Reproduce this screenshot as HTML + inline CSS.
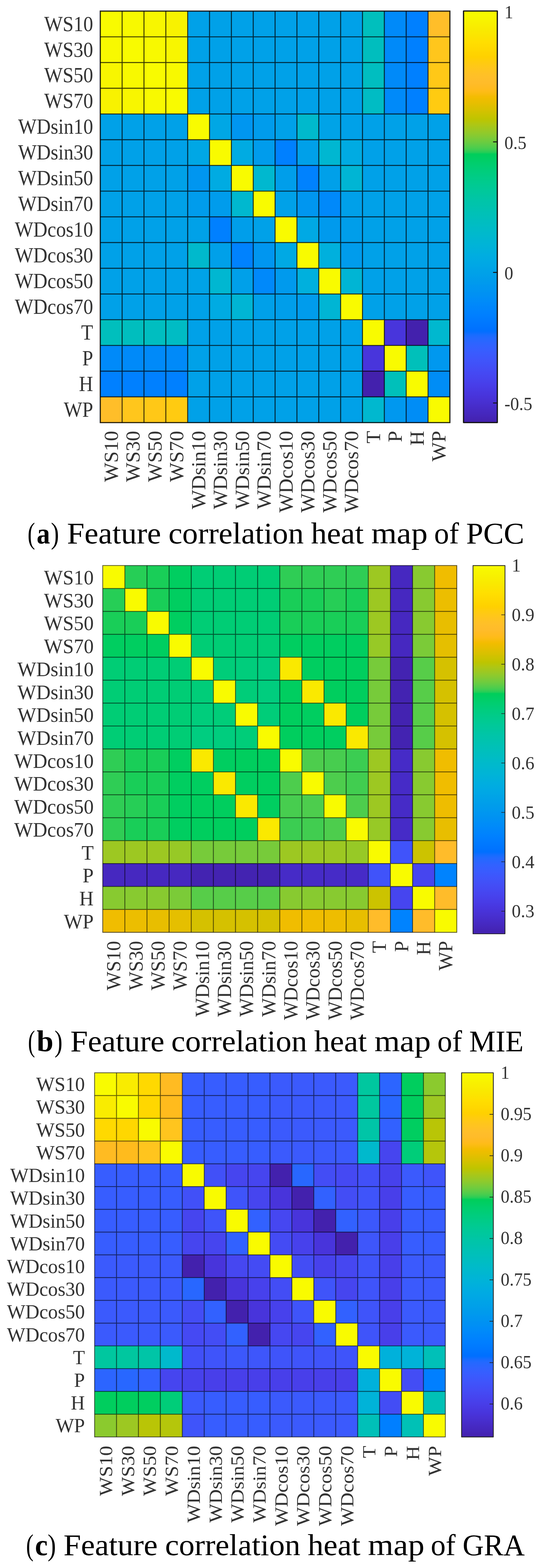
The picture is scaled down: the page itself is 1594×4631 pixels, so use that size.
<!DOCTYPE html>
<html lang="en">
<head>
<meta charset="utf-8">
<title>Feature correlation heat maps</title>
<style>
html,body{margin:0;padding:0;background:#fff;}
body{width:1594px;height:4631px;overflow:hidden;}
svg{display:block;}
text{font-family:'Liberation Serif', 'DejaVu Serif', serif;fill:#333;}
.cap{fill:#000;}
</style>
</head>
<body>
<svg width="1594" height="4631" viewBox="0 0 1594 4631">
<rect x="0" y="0" width="1594" height="4631" fill="#ffffff"/>
<defs>
<linearGradient id="cb" x1="0" y1="1" x2="0" y2="0">
<stop offset="0%" stop-color="#4321ad"/><stop offset="0.391%" stop-color="#4322b0"/><stop offset="0.781%" stop-color="#4423b3"/><stop offset="1.172%" stop-color="#4424b6"/><stop offset="1.562%" stop-color="#4526b9"/><stop offset="1.953%" stop-color="#4527bc"/><stop offset="2.344%" stop-color="#4528bf"/><stop offset="2.734%" stop-color="#4629c1"/>
<stop offset="3.125%" stop-color="#462ac4"/><stop offset="3.516%" stop-color="#462bc7"/><stop offset="3.906%" stop-color="#472cca"/><stop offset="4.297%" stop-color="#472ecc"/><stop offset="4.688%" stop-color="#472fcf"/><stop offset="5.078%" stop-color="#4830d2"/><stop offset="5.469%" stop-color="#4831d4"/><stop offset="5.859%" stop-color="#4832d7"/>
<stop offset="6.25%" stop-color="#4833da"/><stop offset="6.641%" stop-color="#4835dc"/><stop offset="7.031%" stop-color="#4836de"/><stop offset="7.422%" stop-color="#4837e0"/><stop offset="7.812%" stop-color="#4839e2"/><stop offset="8.203%" stop-color="#483ae4"/><stop offset="8.594%" stop-color="#483ce6"/><stop offset="8.984%" stop-color="#483de8"/>
<stop offset="9.375%" stop-color="#483fe9"/><stop offset="9.766%" stop-color="#4740eb"/><stop offset="10.156%" stop-color="#4742ec"/><stop offset="10.547%" stop-color="#4743ee"/><stop offset="10.938%" stop-color="#4645ef"/><stop offset="11.328%" stop-color="#4646f0"/><stop offset="11.719%" stop-color="#4548f2"/><stop offset="12.109%" stop-color="#4549f3"/>
<stop offset="12.5%" stop-color="#444bf4"/><stop offset="12.891%" stop-color="#444cf5"/><stop offset="13.281%" stop-color="#434ef6"/><stop offset="13.672%" stop-color="#424ff7"/><stop offset="14.062%" stop-color="#4151f8"/><stop offset="14.453%" stop-color="#4052f9"/><stop offset="14.844%" stop-color="#4054fa"/><stop offset="15.234%" stop-color="#3f55fb"/>
<stop offset="15.625%" stop-color="#3e56fc"/><stop offset="16.016%" stop-color="#3c58fc"/><stop offset="16.406%" stop-color="#3b59fd"/><stop offset="16.797%" stop-color="#3a5bfe"/><stop offset="17.188%" stop-color="#385cfe"/><stop offset="17.578%" stop-color="#375eff"/><stop offset="17.969%" stop-color="#355fff"/><stop offset="18.359%" stop-color="#3361ff"/>
<stop offset="18.75%" stop-color="#3162ff"/><stop offset="19.141%" stop-color="#2e64ff"/><stop offset="19.531%" stop-color="#2b65ff"/><stop offset="19.922%" stop-color="#2867ff"/><stop offset="20.312%" stop-color="#2568ff"/><stop offset="20.703%" stop-color="#216aff"/><stop offset="21.094%" stop-color="#1b6bff"/><stop offset="21.484%" stop-color="#136dff"/>
<stop offset="21.875%" stop-color="#086eff"/><stop offset="22.266%" stop-color="#0070ff"/><stop offset="22.656%" stop-color="#0071ff"/><stop offset="23.047%" stop-color="#0073ff"/><stop offset="23.438%" stop-color="#0075ff"/><stop offset="23.828%" stop-color="#0076ff"/><stop offset="24.219%" stop-color="#0078ff"/><stop offset="24.609%" stop-color="#0079ff"/>
<stop offset="25%" stop-color="#007bff"/><stop offset="25.391%" stop-color="#007cff"/><stop offset="25.781%" stop-color="#007eff"/><stop offset="26.172%" stop-color="#007fff"/><stop offset="26.562%" stop-color="#0081fe"/><stop offset="26.953%" stop-color="#0082fe"/><stop offset="27.344%" stop-color="#0084fd"/><stop offset="27.734%" stop-color="#0085fc"/>
<stop offset="28.125%" stop-color="#0086fb"/><stop offset="28.516%" stop-color="#0088fb"/><stop offset="28.906%" stop-color="#0089fa"/><stop offset="29.297%" stop-color="#008bf9"/><stop offset="29.688%" stop-color="#008cf8"/><stop offset="30.078%" stop-color="#008df7"/><stop offset="30.469%" stop-color="#008ff6"/><stop offset="30.859%" stop-color="#0090f4"/>
<stop offset="31.25%" stop-color="#0091f3"/><stop offset="31.641%" stop-color="#0092f2"/><stop offset="32.031%" stop-color="#0094f1"/><stop offset="32.422%" stop-color="#0095f1"/><stop offset="32.812%" stop-color="#0096f0"/><stop offset="33.203%" stop-color="#0097ef"/><stop offset="33.594%" stop-color="#0099ee"/><stop offset="33.984%" stop-color="#009aed"/>
<stop offset="34.375%" stop-color="#009bec"/><stop offset="34.766%" stop-color="#009ceb"/><stop offset="35.156%" stop-color="#009dea"/><stop offset="35.547%" stop-color="#009fea"/><stop offset="35.938%" stop-color="#00a0e9"/><stop offset="36.328%" stop-color="#00a1e8"/><stop offset="36.719%" stop-color="#00a2e8"/><stop offset="37.109%" stop-color="#00a3e7"/>
<stop offset="37.5%" stop-color="#00a4e6"/><stop offset="37.891%" stop-color="#00a6e6"/><stop offset="38.281%" stop-color="#00a7e5"/><stop offset="38.672%" stop-color="#00a8e4"/><stop offset="39.062%" stop-color="#00a9e4"/><stop offset="39.453%" stop-color="#00aae3"/><stop offset="39.844%" stop-color="#00abe2"/><stop offset="40.234%" stop-color="#00ace1"/>
<stop offset="40.625%" stop-color="#00ade0"/><stop offset="41.016%" stop-color="#00aedf"/><stop offset="41.406%" stop-color="#00afdd"/><stop offset="41.797%" stop-color="#00b0dc"/><stop offset="42.188%" stop-color="#00b1db"/><stop offset="42.578%" stop-color="#00b2d9"/><stop offset="42.969%" stop-color="#00b3d8"/><stop offset="43.359%" stop-color="#00b4d7"/>
<stop offset="43.75%" stop-color="#00b5d5"/><stop offset="44.141%" stop-color="#00b5d4"/><stop offset="44.531%" stop-color="#00b6d2"/><stop offset="44.922%" stop-color="#00b7d0"/><stop offset="45.312%" stop-color="#00b8cf"/><stop offset="45.703%" stop-color="#00b9cd"/><stop offset="46.094%" stop-color="#00b9cc"/><stop offset="46.484%" stop-color="#00baca"/>
<stop offset="46.875%" stop-color="#00bbc8"/><stop offset="47.266%" stop-color="#00bbc7"/><stop offset="47.656%" stop-color="#00bcc5"/><stop offset="48.047%" stop-color="#00bdc3"/><stop offset="48.438%" stop-color="#00bdc1"/><stop offset="48.828%" stop-color="#00bec0"/><stop offset="49.219%" stop-color="#00bebe"/><stop offset="49.609%" stop-color="#00bfbc"/>
<stop offset="50%" stop-color="#00c0ba"/><stop offset="50.391%" stop-color="#00c0b8"/><stop offset="50.781%" stop-color="#00c1b7"/><stop offset="51.172%" stop-color="#00c1b5"/><stop offset="51.562%" stop-color="#00c2b3"/><stop offset="51.953%" stop-color="#00c2b1"/><stop offset="52.344%" stop-color="#00c3af"/><stop offset="52.734%" stop-color="#00c3ad"/>
<stop offset="53.125%" stop-color="#00c4ab"/><stop offset="53.516%" stop-color="#00c4aa"/><stop offset="53.906%" stop-color="#00c5a8"/><stop offset="54.297%" stop-color="#00c5a6"/><stop offset="54.688%" stop-color="#00c6a4"/><stop offset="55.078%" stop-color="#00c6a1"/><stop offset="55.469%" stop-color="#00c79f"/><stop offset="55.859%" stop-color="#00c89d"/>
<stop offset="56.25%" stop-color="#00c89b"/><stop offset="56.641%" stop-color="#00c999"/><stop offset="57.031%" stop-color="#00c997"/><stop offset="57.422%" stop-color="#00ca94"/><stop offset="57.812%" stop-color="#00ca92"/><stop offset="58.203%" stop-color="#00cb8f"/><stop offset="58.594%" stop-color="#00cb8d"/><stop offset="58.984%" stop-color="#00cb8a"/>
<stop offset="59.375%" stop-color="#00cc88"/><stop offset="59.766%" stop-color="#00cc85"/><stop offset="60.156%" stop-color="#00cc82"/><stop offset="60.547%" stop-color="#00cd80"/><stop offset="60.938%" stop-color="#00cd7d"/><stop offset="61.328%" stop-color="#00cd7a"/><stop offset="61.719%" stop-color="#00cd77"/><stop offset="62.109%" stop-color="#00ce74"/>
<stop offset="62.5%" stop-color="#00ce71"/><stop offset="62.891%" stop-color="#00ce6e"/><stop offset="63.281%" stop-color="#00ce6b"/><stop offset="63.672%" stop-color="#00ce67"/><stop offset="64.062%" stop-color="#00ce64"/><stop offset="64.453%" stop-color="#00ce61"/><stop offset="64.844%" stop-color="#00ce5d"/><stop offset="65.234%" stop-color="#00ce5a"/>
<stop offset="65.625%" stop-color="#22ce57"/><stop offset="66.016%" stop-color="#34cd54"/><stop offset="66.406%" stop-color="#42cd50"/><stop offset="66.797%" stop-color="#4dcd4d"/><stop offset="67.188%" stop-color="#56cd49"/><stop offset="67.578%" stop-color="#5fcc46"/><stop offset="67.969%" stop-color="#67cc42"/><stop offset="68.359%" stop-color="#6fcc3e"/>
<stop offset="68.75%" stop-color="#76cb3b"/><stop offset="69.141%" stop-color="#7dcb37"/><stop offset="69.531%" stop-color="#84ca33"/><stop offset="69.922%" stop-color="#8aca2f"/><stop offset="70.312%" stop-color="#90ca2b"/><stop offset="70.703%" stop-color="#96c927"/><stop offset="71.094%" stop-color="#9cc823"/><stop offset="71.484%" stop-color="#a1c81e"/>
<stop offset="71.875%" stop-color="#a6c71a"/><stop offset="72.266%" stop-color="#acc716"/><stop offset="72.656%" stop-color="#b1c611"/><stop offset="73.047%" stop-color="#b6c60a"/><stop offset="73.438%" stop-color="#bac504"/><stop offset="73.828%" stop-color="#bfc400"/><stop offset="74.219%" stop-color="#c4c400"/><stop offset="74.609%" stop-color="#c8c300"/>
<stop offset="75%" stop-color="#ccc300"/><stop offset="75.391%" stop-color="#d0c200"/><stop offset="75.781%" stop-color="#d5c100"/><stop offset="76.172%" stop-color="#d9c100"/><stop offset="76.562%" stop-color="#dcc000"/><stop offset="76.953%" stop-color="#e0bf00"/><stop offset="77.344%" stop-color="#e4bf00"/><stop offset="77.734%" stop-color="#e8be00"/>
<stop offset="78.125%" stop-color="#ebbe00"/><stop offset="78.516%" stop-color="#eebd00"/><stop offset="78.906%" stop-color="#f2bd00"/><stop offset="79.297%" stop-color="#f5bc04"/><stop offset="79.688%" stop-color="#f8bc0c"/><stop offset="80.078%" stop-color="#fbbc12"/><stop offset="80.469%" stop-color="#febc17"/><stop offset="80.859%" stop-color="#ffbb1c"/>
<stop offset="81.25%" stop-color="#ffbb20"/><stop offset="81.641%" stop-color="#ffbb23"/><stop offset="82.031%" stop-color="#ffbb26"/><stop offset="82.422%" stop-color="#ffbc29"/><stop offset="82.812%" stop-color="#ffbc2a"/><stop offset="83.203%" stop-color="#ffbd2a"/><stop offset="83.594%" stop-color="#ffbe29"/><stop offset="83.984%" stop-color="#ffbf29"/>
<stop offset="84.375%" stop-color="#ffc027"/><stop offset="84.766%" stop-color="#ffc125"/><stop offset="85.156%" stop-color="#ffc322"/><stop offset="85.547%" stop-color="#ffc420"/><stop offset="85.938%" stop-color="#ffc51d"/><stop offset="86.328%" stop-color="#ffc71a"/><stop offset="86.719%" stop-color="#ffc817"/><stop offset="87.109%" stop-color="#ffca13"/>
<stop offset="87.5%" stop-color="#ffcb0f"/><stop offset="87.891%" stop-color="#ffcd0b"/><stop offset="88.281%" stop-color="#ffce06"/><stop offset="88.672%" stop-color="#ffd001"/><stop offset="89.062%" stop-color="#ffd100"/><stop offset="89.453%" stop-color="#ffd300"/><stop offset="89.844%" stop-color="#ffd400"/><stop offset="90.234%" stop-color="#ffd600"/>
<stop offset="90.625%" stop-color="#ffd800"/><stop offset="91.016%" stop-color="#ffd900"/><stop offset="91.406%" stop-color="#ffdb00"/><stop offset="91.797%" stop-color="#ffdc00"/><stop offset="92.188%" stop-color="#ffde00"/><stop offset="92.578%" stop-color="#ffdf00"/><stop offset="92.969%" stop-color="#fee100"/><stop offset="93.359%" stop-color="#fde200"/>
<stop offset="93.75%" stop-color="#fce400"/><stop offset="94.141%" stop-color="#fbe500"/><stop offset="94.531%" stop-color="#fbe700"/><stop offset="94.922%" stop-color="#fae800"/><stop offset="95.312%" stop-color="#f9ea00"/><stop offset="95.703%" stop-color="#f9eb00"/><stop offset="96.094%" stop-color="#f9ed00"/><stop offset="96.484%" stop-color="#f9ee00"/>
<stop offset="96.875%" stop-color="#f8f000"/><stop offset="97.266%" stop-color="#f8f100"/><stop offset="97.656%" stop-color="#f8f300"/><stop offset="98.047%" stop-color="#f8f400"/><stop offset="98.438%" stop-color="#f8f500"/><stop offset="98.828%" stop-color="#f8f700"/><stop offset="99.219%" stop-color="#f8f800"/><stop offset="99.609%" stop-color="#f9fa00"/>
<stop offset="100%" stop-color="#f9fb00"/>
</linearGradient>
</defs>
<g id="plot1">
<g shape-rendering="crispEdges">
<rect x="296" y="32.8" width="65" height="76.46" fill="#f9fb00"/><rect x="360.5" y="32.8" width="65" height="76.46" fill="#f8f900"/><rect x="425" y="32.8" width="65" height="76.46" fill="#f8f600"/><rect x="489.5" y="32.8" width="65" height="76.46" fill="#f8f200"/><rect x="554" y="32.8" width="516.5" height="76.46" fill="#00a1e8"/><rect x="1070" y="32.8" width="65" height="76.46" fill="#00bfbd"/><rect x="1134.5" y="32.8" width="65" height="76.46" fill="#008af9"/><rect x="1199" y="32.8" width="65" height="76.46" fill="#0080ff"/><rect x="1263.5" y="32.8" width="65" height="76.46" fill="#ffbe29"/>
<rect x="296" y="108.76" width="65" height="76.46" fill="#f8f900"/><rect x="360.5" y="108.76" width="65" height="76.46" fill="#f9fb00"/><rect x="425" y="108.76" width="65" height="76.46" fill="#f8f900"/><rect x="489.5" y="108.76" width="65" height="76.46" fill="#f8f600"/><rect x="554" y="108.76" width="516.5" height="76.46" fill="#00a1e8"/><rect x="1070" y="108.76" width="65" height="76.46" fill="#00bebe"/><rect x="1134.5" y="108.76" width="65" height="76.46" fill="#008af9"/><rect x="1199" y="108.76" width="65" height="76.46" fill="#0080ff"/><rect x="1263.5" y="108.76" width="65" height="76.46" fill="#ffc61c"/>
<rect x="296" y="184.71" width="65" height="76.46" fill="#f8f600"/><rect x="360.5" y="184.71" width="65" height="76.46" fill="#f8f900"/><rect x="425" y="184.71" width="65" height="76.46" fill="#f9fb00"/><rect x="489.5" y="184.71" width="65" height="76.46" fill="#f8f900"/><rect x="554" y="184.71" width="516.5" height="76.46" fill="#00a1e8"/><rect x="1070" y="184.71" width="65" height="76.46" fill="#00bec0"/><rect x="1134.5" y="184.71" width="65" height="76.46" fill="#008af9"/><rect x="1199" y="184.71" width="65" height="76.46" fill="#0080ff"/><rect x="1263.5" y="184.71" width="65" height="76.46" fill="#ffc817"/>
<rect x="296" y="260.67" width="65" height="76.46" fill="#f8f200"/><rect x="360.5" y="260.67" width="65" height="76.46" fill="#f8f600"/><rect x="425" y="260.67" width="65" height="76.46" fill="#f8f900"/><rect x="489.5" y="260.67" width="65" height="76.46" fill="#f9fb00"/><rect x="554" y="260.67" width="516.5" height="76.46" fill="#00a1e8"/><rect x="1070" y="260.67" width="65" height="76.46" fill="#00bcc4"/><rect x="1134.5" y="260.67" width="65" height="76.46" fill="#008af9"/><rect x="1199" y="260.67" width="65" height="76.46" fill="#0080ff"/><rect x="1263.5" y="260.67" width="65" height="76.46" fill="#ffcb11"/>
<rect x="296" y="336.62" width="258.5" height="76.46" fill="#00a1e8"/><rect x="554" y="336.62" width="65" height="76.46" fill="#f9fb00"/><rect x="618.5" y="336.62" width="65" height="76.46" fill="#00a7e5"/><rect x="683" y="336.62" width="65" height="76.46" fill="#0096f0"/><rect x="747.5" y="336.62" width="65" height="76.46" fill="#009cec"/><rect x="812" y="336.62" width="65" height="76.46" fill="#00a1e8"/><rect x="876.5" y="336.62" width="65" height="76.46" fill="#00b9cc"/><rect x="941" y="336.62" width="65" height="76.46" fill="#00a3e7"/><rect x="1005.5" y="336.62" width="323" height="76.46" fill="#00a1e8"/>
<rect x="296" y="412.58" width="258.5" height="76.46" fill="#00a1e8"/><rect x="554" y="412.58" width="65" height="76.46" fill="#00a7e5"/><rect x="618.5" y="412.58" width="65" height="76.46" fill="#f9fb00"/><rect x="683" y="412.58" width="65" height="76.46" fill="#00abe2"/><rect x="747.5" y="412.58" width="65" height="76.46" fill="#009cec"/><rect x="812" y="412.58" width="65" height="76.46" fill="#0080ff"/><rect x="876.5" y="412.58" width="65" height="76.46" fill="#00a0e9"/><rect x="941" y="412.58" width="65" height="76.46" fill="#00b7d1"/><rect x="1005.5" y="412.58" width="65" height="76.46" fill="#00abe2"/><rect x="1070" y="412.58" width="258.5" height="76.46" fill="#00a1e8"/>
<rect x="296" y="488.54" width="258.5" height="76.46" fill="#00a1e8"/><rect x="554" y="488.54" width="65" height="76.46" fill="#0096f0"/><rect x="618.5" y="488.54" width="65" height="76.46" fill="#00abe2"/><rect x="683" y="488.54" width="65" height="76.46" fill="#f9fb00"/><rect x="747.5" y="488.54" width="65" height="76.46" fill="#00b8cf"/><rect x="812" y="488.54" width="65" height="76.46" fill="#009eea"/><rect x="876.5" y="488.54" width="65" height="76.46" fill="#0082fe"/><rect x="941" y="488.54" width="65" height="76.46" fill="#00a0e9"/><rect x="1005.5" y="488.54" width="65" height="76.46" fill="#00b5d4"/><rect x="1070" y="488.54" width="258.5" height="76.46" fill="#00a1e8"/>
<rect x="296" y="564.49" width="258.5" height="76.46" fill="#00a1e8"/><rect x="554" y="564.49" width="129.5" height="76.46" fill="#009cec"/><rect x="683" y="564.49" width="65" height="76.46" fill="#00b8cf"/><rect x="747.5" y="564.49" width="65" height="76.46" fill="#f9fb00"/><rect x="812" y="564.49" width="65" height="76.46" fill="#00a1e8"/><rect x="876.5" y="564.49" width="65" height="76.46" fill="#0096f0"/><rect x="941" y="564.49" width="65" height="76.46" fill="#0089fa"/><rect x="1005.5" y="564.49" width="65" height="76.46" fill="#00a0e9"/><rect x="1070" y="564.49" width="258.5" height="76.46" fill="#00a1e8"/>
<rect x="296" y="640.45" width="323" height="76.46" fill="#00a1e8"/><rect x="618.5" y="640.45" width="65" height="76.46" fill="#0080ff"/><rect x="683" y="640.45" width="65" height="76.46" fill="#009eea"/><rect x="747.5" y="640.45" width="65" height="76.46" fill="#00a1e8"/><rect x="812" y="640.45" width="65" height="76.46" fill="#f9fb00"/><rect x="876.5" y="640.45" width="65" height="76.46" fill="#00a9e4"/><rect x="941" y="640.45" width="65" height="76.46" fill="#009aed"/><rect x="1005.5" y="640.45" width="65" height="76.46" fill="#009eea"/><rect x="1070" y="640.45" width="258.5" height="76.46" fill="#00a1e8"/>
<rect x="296" y="716.41" width="258.5" height="76.46" fill="#00a1e8"/><rect x="554" y="716.41" width="65" height="76.46" fill="#00b9cc"/><rect x="618.5" y="716.41" width="65" height="76.46" fill="#00a0e9"/><rect x="683" y="716.41" width="65" height="76.46" fill="#0082fe"/><rect x="747.5" y="716.41" width="65" height="76.46" fill="#0096f0"/><rect x="812" y="716.41" width="65" height="76.46" fill="#00a9e4"/><rect x="876.5" y="716.41" width="65" height="76.46" fill="#f9fb00"/><rect x="941" y="716.41" width="65" height="76.46" fill="#00b0dd"/><rect x="1005.5" y="716.41" width="65" height="76.46" fill="#009cec"/><rect x="1070" y="716.41" width="258.5" height="76.46" fill="#00a1e8"/>
<rect x="296" y="792.36" width="258.5" height="76.46" fill="#00a1e8"/><rect x="554" y="792.36" width="65" height="76.46" fill="#00a3e7"/><rect x="618.5" y="792.36" width="65" height="76.46" fill="#00b7d1"/><rect x="683" y="792.36" width="65" height="76.46" fill="#00a0e9"/><rect x="747.5" y="792.36" width="65" height="76.46" fill="#0089fa"/><rect x="812" y="792.36" width="65" height="76.46" fill="#009aed"/><rect x="876.5" y="792.36" width="65" height="76.46" fill="#00b0dd"/><rect x="941" y="792.36" width="65" height="76.46" fill="#f9fb00"/><rect x="1005.5" y="792.36" width="65" height="76.46" fill="#00b5d4"/><rect x="1070" y="792.36" width="258.5" height="76.46" fill="#00a1e8"/>
<rect x="296" y="868.32" width="323" height="76.46" fill="#00a1e8"/><rect x="618.5" y="868.32" width="65" height="76.46" fill="#00abe2"/><rect x="683" y="868.32" width="65" height="76.46" fill="#00b5d4"/><rect x="747.5" y="868.32" width="65" height="76.46" fill="#00a0e9"/><rect x="812" y="868.32" width="65" height="76.46" fill="#009eea"/><rect x="876.5" y="868.32" width="65" height="76.46" fill="#009cec"/><rect x="941" y="868.32" width="65" height="76.46" fill="#00b5d4"/><rect x="1005.5" y="868.32" width="65" height="76.46" fill="#f9fb00"/><rect x="1070" y="868.32" width="258.5" height="76.46" fill="#00a1e8"/>
<rect x="296" y="944.27" width="65" height="76.46" fill="#00bfbd"/><rect x="360.5" y="944.27" width="65" height="76.46" fill="#00bebe"/><rect x="425" y="944.27" width="65" height="76.46" fill="#00bec0"/><rect x="489.5" y="944.27" width="65" height="76.46" fill="#00bcc4"/><rect x="554" y="944.27" width="516.5" height="76.46" fill="#00a1e8"/><rect x="1070" y="944.27" width="65" height="76.46" fill="#f9fb00"/><rect x="1134.5" y="944.27" width="65" height="76.46" fill="#4835dc"/><rect x="1199" y="944.27" width="65" height="76.46" fill="#4321ad"/><rect x="1263.5" y="944.27" width="65" height="76.46" fill="#00b8cf"/>
<rect x="296" y="1020.23" width="258.5" height="76.46" fill="#008af9"/><rect x="554" y="1020.23" width="516.5" height="76.46" fill="#00a1e8"/><rect x="1070" y="1020.23" width="65" height="76.46" fill="#4835dc"/><rect x="1134.5" y="1020.23" width="65" height="76.46" fill="#f9fb00"/><rect x="1199" y="1020.23" width="65" height="76.46" fill="#00c0ba"/><rect x="1263.5" y="1020.23" width="65" height="76.46" fill="#0098ef"/>
<rect x="296" y="1096.19" width="258.5" height="76.46" fill="#0080ff"/><rect x="554" y="1096.19" width="516.5" height="76.46" fill="#00a1e8"/><rect x="1070" y="1096.19" width="65" height="76.46" fill="#4321ad"/><rect x="1134.5" y="1096.19" width="65" height="76.46" fill="#00c0ba"/><rect x="1199" y="1096.19" width="65" height="76.46" fill="#f9fb00"/><rect x="1263.5" y="1096.19" width="65" height="76.46" fill="#008df6"/>
<rect x="296" y="1172.14" width="65" height="76.46" fill="#ffbe29"/><rect x="360.5" y="1172.14" width="65" height="76.46" fill="#ffc61c"/><rect x="425" y="1172.14" width="65" height="76.46" fill="#ffc817"/><rect x="489.5" y="1172.14" width="65" height="76.46" fill="#ffcb11"/><rect x="554" y="1172.14" width="516.5" height="76.46" fill="#00a1e8"/><rect x="1070" y="1172.14" width="65" height="76.46" fill="#00b8cf"/><rect x="1134.5" y="1172.14" width="65" height="76.46" fill="#0098ef"/><rect x="1199" y="1172.14" width="65" height="76.46" fill="#008df6"/><rect x="1263.5" y="1172.14" width="65" height="76.46" fill="#f9fb00"/>
</g>
<g fill="none" stroke="#000">
<path d="M360.5 32.8V1248.1M296 108.76H1328M425 32.8V1248.1M296 184.71H1328M489.5 32.8V1248.1M296 260.67H1328M554 32.8V1248.1M296 336.62H1328M618.5 32.8V1248.1M296 412.58H1328M683 32.8V1248.1M296 488.54H1328M747.5 32.8V1248.1M296 564.49H1328M812 32.8V1248.1M296 640.45H1328M876.5 32.8V1248.1M296 716.41H1328M941 32.8V1248.1M296 792.36H1328M1005.5 32.8V1248.1M296 868.32H1328M1070 32.8V1248.1M296 944.27H1328M1134.5 32.8V1248.1M296 1020.23H1328M1199 32.8V1248.1M296 1096.19H1328M1263.5 32.8V1248.1M296 1172.14H1328" stroke-opacity="0.35" stroke-width="3.6"/>
<path d="M360.5 32.8V1248.1M296 108.76H1328M425 32.8V1248.1M296 184.71H1328M489.5 32.8V1248.1M296 260.67H1328M554 32.8V1248.1M296 336.62H1328M618.5 32.8V1248.1M296 412.58H1328M683 32.8V1248.1M296 488.54H1328M747.5 32.8V1248.1M296 564.49H1328M812 32.8V1248.1M296 640.45H1328M876.5 32.8V1248.1M296 716.41H1328M941 32.8V1248.1M296 792.36H1328M1005.5 32.8V1248.1M296 868.32H1328M1070 32.8V1248.1M296 944.27H1328M1134.5 32.8V1248.1M296 1020.23H1328M1199 32.8V1248.1M296 1096.19H1328M1263.5 32.8V1248.1M296 1172.14H1328" stroke-opacity="0.82" stroke-width="1.7"/>
<path d="M296 32.8H1328V1248.1H296Z" stroke-opacity="0.85" stroke-width="3.4"/>
<path d="M296 32.8H1328V1248.1H296Z" stroke-opacity="0" stroke-width="1"/>
</g>
<rect x="1368.3" y="32.5" width="99.7" height="1215.5" fill="url(#cb)" stroke="#111" stroke-width="3.6" stroke-linejoin="round"/>
<text transform="translate(1489 54) scale(1 1.05)" font-size="52">1</text>
<path d="M1455.5 419H1468" stroke="#111" stroke-width="2.8"/><text transform="translate(1489 439.6) scale(1 1.05)" font-size="52">0.5</text>
<path d="M1455.5 804.6H1468" stroke="#111" stroke-width="2.8"/><text transform="translate(1489 825.2) scale(1 1.05)" font-size="52">0</text>
<path d="M1455.5 1190.2H1468" stroke="#111" stroke-width="2.8"/><text transform="translate(1489 1210.8) scale(1 1.05)" font-size="52">-0.5</text>
<text transform="translate(274.8 91.58) scale(1.0135 1.12)" font-size="57" text-anchor="end">WS10</text>
<text transform="translate(274.8 167.53) scale(1.0135 1.12)" font-size="57" text-anchor="end">WS30</text>
<text transform="translate(274.8 243.49) scale(1.0135 1.12)" font-size="57" text-anchor="end">WS50</text>
<text transform="translate(274.8 319.45) scale(1.0135 1.12)" font-size="57" text-anchor="end">WS70</text>
<text transform="translate(274.8 395.4) scale(1.0135 1.12)" font-size="57" text-anchor="end">WDsin10</text>
<text transform="translate(274.8 471.36) scale(1.0135 1.12)" font-size="57" text-anchor="end">WDsin30</text>
<text transform="translate(274.8 547.32) scale(1.0135 1.12)" font-size="57" text-anchor="end">WDsin50</text>
<text transform="translate(274.8 623.27) scale(1.0135 1.12)" font-size="57" text-anchor="end">WDsin70</text>
<text transform="translate(274.8 699.23) scale(1.0135 1.12)" font-size="57" text-anchor="end">WDcos10</text>
<text transform="translate(274.8 775.18) scale(1.0135 1.12)" font-size="57" text-anchor="end">WDcos30</text>
<text transform="translate(274.8 851.14) scale(1.0135 1.12)" font-size="57" text-anchor="end">WDcos50</text>
<text transform="translate(274.8 927.1) scale(1.0135 1.12)" font-size="57" text-anchor="end">WDcos70</text>
<text transform="translate(274.8 1003.05) scale(1.0135 1.12)" font-size="57" text-anchor="end">T</text>
<text transform="translate(274.8 1079.01) scale(1.0135 1.12)" font-size="57" text-anchor="end">P</text>
<text transform="translate(274.8 1154.97) scale(1.0135 1.12)" font-size="57" text-anchor="end">H</text>
<text transform="translate(274.8 1230.92) scale(1.0135 1.12)" font-size="57" text-anchor="end">WP</text>
<text transform="translate(347.75 1272.5) scale(1.02 1.06) rotate(-90)" font-size="57" text-anchor="end">WS10</text>
<text transform="translate(412.25 1272.5) scale(1.02 1.06) rotate(-90)" font-size="57" text-anchor="end">WS30</text>
<text transform="translate(476.75 1272.5) scale(1.02 1.06) rotate(-90)" font-size="57" text-anchor="end">WS50</text>
<text transform="translate(541.25 1272.5) scale(1.02 1.06) rotate(-90)" font-size="57" text-anchor="end">WS70</text>
<text transform="translate(605.75 1272.5) scale(1.02 1.06) rotate(-90)" font-size="57" text-anchor="end">WDsin10</text>
<text transform="translate(670.25 1272.5) scale(1.02 1.06) rotate(-90)" font-size="57" text-anchor="end">WDsin30</text>
<text transform="translate(734.75 1272.5) scale(1.02 1.06) rotate(-90)" font-size="57" text-anchor="end">WDsin50</text>
<text transform="translate(799.25 1272.5) scale(1.02 1.06) rotate(-90)" font-size="57" text-anchor="end">WDsin70</text>
<text transform="translate(863.75 1272.5) scale(1.02 1.06) rotate(-90)" font-size="57" text-anchor="end">WDcos10</text>
<text transform="translate(928.25 1272.5) scale(1.02 1.06) rotate(-90)" font-size="57" text-anchor="end">WDcos30</text>
<text transform="translate(992.75 1272.5) scale(1.02 1.06) rotate(-90)" font-size="57" text-anchor="end">WDcos50</text>
<text transform="translate(1057.25 1272.5) scale(1.02 1.06) rotate(-90)" font-size="57" text-anchor="end">WDcos70</text>
<text transform="translate(1121.75 1272.5) scale(1.02 1.06) rotate(-90)" font-size="57" text-anchor="end">T</text>
<text transform="translate(1186.25 1272.5) scale(1.02 1.06) rotate(-90)" font-size="57" text-anchor="end">P</text>
<text transform="translate(1250.75 1272.5) scale(1.02 1.06) rotate(-90)" font-size="57" text-anchor="end">H</text>
<text transform="translate(1315.25 1272.5) scale(1.02 1.06) rotate(-90)" font-size="57" text-anchor="end">WP</text>
</g>
<g id="plot2">
<g shape-rendering="crispEdges">
<rect x="303.2" y="1670.3" width="65.83" height="68.21" fill="#f9fb00"/><rect x="368.52" y="1670.3" width="65.83" height="68.21" fill="#26ce56"/><rect x="433.85" y="1670.3" width="65.83" height="68.21" fill="#19ce58"/><rect x="499.18" y="1670.3" width="65.83" height="68.21" fill="#00ce60"/><rect x="564.5" y="1670.3" width="261.8" height="68.21" fill="#00cd75"/><rect x="825.8" y="1670.3" width="261.8" height="68.21" fill="#2fcd55"/><rect x="1087.1" y="1670.3" width="65.83" height="68.21" fill="#9dc822"/><rect x="1152.42" y="1670.3" width="65.83" height="68.21" fill="#4628c0"/><rect x="1217.75" y="1670.3" width="65.83" height="68.21" fill="#88ca30"/><rect x="1283.08" y="1670.3" width="65.83" height="68.21" fill="#f0bd00"/>
<rect x="303.2" y="1738.01" width="65.83" height="68.21" fill="#26ce56"/><rect x="368.52" y="1738.01" width="65.83" height="68.21" fill="#f9fb00"/><rect x="433.85" y="1738.01" width="65.83" height="68.21" fill="#19ce58"/><rect x="499.18" y="1738.01" width="65.83" height="68.21" fill="#00ce60"/><rect x="564.5" y="1738.01" width="261.8" height="68.21" fill="#00cd75"/><rect x="825.8" y="1738.01" width="131.15" height="68.21" fill="#19ce58"/><rect x="956.45" y="1738.01" width="65.83" height="68.21" fill="#26ce56"/><rect x="1021.78" y="1738.01" width="65.83" height="68.21" fill="#19ce58"/><rect x="1087.1" y="1738.01" width="65.83" height="68.21" fill="#9dc822"/><rect x="1152.42" y="1738.01" width="65.83" height="68.21" fill="#4628c0"/><rect x="1217.75" y="1738.01" width="65.83" height="68.21" fill="#88ca30"/><rect x="1283.08" y="1738.01" width="65.83" height="68.21" fill="#ecbe00"/>
<rect x="303.2" y="1805.71" width="131.15" height="68.21" fill="#19ce58"/><rect x="433.85" y="1805.71" width="65.83" height="68.21" fill="#f9fb00"/><rect x="499.18" y="1805.71" width="65.83" height="68.21" fill="#00ce60"/><rect x="564.5" y="1805.71" width="261.8" height="68.21" fill="#00cd75"/><rect x="825.8" y="1805.71" width="261.8" height="68.21" fill="#19ce58"/><rect x="1087.1" y="1805.71" width="65.83" height="68.21" fill="#9dc822"/><rect x="1152.42" y="1805.71" width="65.83" height="68.21" fill="#4628c0"/><rect x="1217.75" y="1805.71" width="65.83" height="68.21" fill="#88ca30"/><rect x="1283.08" y="1805.71" width="65.83" height="68.21" fill="#e8be00"/>
<rect x="303.2" y="1873.42" width="196.48" height="68.21" fill="#00ce60"/><rect x="499.18" y="1873.42" width="65.83" height="68.21" fill="#f9fb00"/><rect x="564.5" y="1873.42" width="261.8" height="68.21" fill="#00cd75"/><rect x="825.8" y="1873.42" width="261.8" height="68.21" fill="#00ce60"/><rect x="1087.1" y="1873.42" width="65.83" height="68.21" fill="#97c926"/><rect x="1152.42" y="1873.42" width="65.83" height="68.21" fill="#4628c0"/><rect x="1217.75" y="1873.42" width="65.83" height="68.21" fill="#7bcb38"/><rect x="1283.08" y="1873.42" width="65.83" height="68.21" fill="#e5bf00"/>
<rect x="303.2" y="1941.12" width="261.8" height="68.21" fill="#00cd75"/><rect x="564.5" y="1941.12" width="65.83" height="68.21" fill="#f9fb00"/><rect x="629.83" y="1941.12" width="65.83" height="68.21" fill="#00cd79"/><rect x="695.15" y="1941.12" width="65.83" height="68.21" fill="#00cd7c"/><rect x="760.48" y="1941.12" width="65.83" height="68.21" fill="#00cd80"/><rect x="825.8" y="1941.12" width="65.83" height="68.21" fill="#fae900"/><rect x="891.12" y="1941.12" width="65.83" height="68.21" fill="#00ce60"/><rect x="956.45" y="1941.12" width="131.15" height="68.21" fill="#00ce5e"/><rect x="1087.1" y="1941.12" width="65.83" height="68.21" fill="#77cb3a"/><rect x="1152.42" y="1941.12" width="65.83" height="68.21" fill="#4323b1"/><rect x="1217.75" y="1941.12" width="65.83" height="68.21" fill="#57cd49"/><rect x="1283.08" y="1941.12" width="65.83" height="68.21" fill="#d5c100"/>
<rect x="303.2" y="2008.83" width="261.8" height="68.21" fill="#00cd75"/><rect x="564.5" y="2008.83" width="65.83" height="68.21" fill="#00cd79"/><rect x="629.83" y="2008.83" width="65.83" height="68.21" fill="#f9fb00"/><rect x="695.15" y="2008.83" width="65.83" height="68.21" fill="#00cd79"/><rect x="760.48" y="2008.83" width="65.83" height="68.21" fill="#00cd7e"/><rect x="825.8" y="2008.83" width="65.83" height="68.21" fill="#00ce60"/><rect x="891.12" y="2008.83" width="65.83" height="68.21" fill="#fae900"/><rect x="956.45" y="2008.83" width="131.15" height="68.21" fill="#00ce5e"/><rect x="1087.1" y="2008.83" width="65.83" height="68.21" fill="#77cb3a"/><rect x="1152.42" y="2008.83" width="65.83" height="68.21" fill="#4323b1"/><rect x="1217.75" y="2008.83" width="65.83" height="68.21" fill="#57cd49"/><rect x="1283.08" y="2008.83" width="65.83" height="68.21" fill="#d5c100"/>
<rect x="303.2" y="2076.54" width="261.8" height="68.21" fill="#00cd75"/><rect x="564.5" y="2076.54" width="65.83" height="68.21" fill="#00cd7c"/><rect x="629.83" y="2076.54" width="65.83" height="68.21" fill="#00cd79"/><rect x="695.15" y="2076.54" width="65.83" height="68.21" fill="#f9fb00"/><rect x="760.48" y="2076.54" width="65.83" height="68.21" fill="#00cd79"/><rect x="825.8" y="2076.54" width="65.83" height="68.21" fill="#00ce5e"/><rect x="891.12" y="2076.54" width="65.83" height="68.21" fill="#00ce60"/><rect x="956.45" y="2076.54" width="65.83" height="68.21" fill="#fae900"/><rect x="1021.78" y="2076.54" width="65.83" height="68.21" fill="#00ce5e"/><rect x="1087.1" y="2076.54" width="65.83" height="68.21" fill="#77cb3a"/><rect x="1152.42" y="2076.54" width="65.83" height="68.21" fill="#4323b1"/><rect x="1217.75" y="2076.54" width="65.83" height="68.21" fill="#57cd49"/><rect x="1283.08" y="2076.54" width="65.83" height="68.21" fill="#d5c100"/>
<rect x="303.2" y="2144.24" width="261.8" height="68.21" fill="#00cd75"/><rect x="564.5" y="2144.24" width="65.83" height="68.21" fill="#00cd80"/><rect x="629.83" y="2144.24" width="65.83" height="68.21" fill="#00cd7e"/><rect x="695.15" y="2144.24" width="65.83" height="68.21" fill="#00cd79"/><rect x="760.48" y="2144.24" width="65.83" height="68.21" fill="#f9fb00"/><rect x="825.8" y="2144.24" width="131.15" height="68.21" fill="#00ce5e"/><rect x="956.45" y="2144.24" width="65.83" height="68.21" fill="#00ce60"/><rect x="1021.78" y="2144.24" width="65.83" height="68.21" fill="#fae900"/><rect x="1087.1" y="2144.24" width="65.83" height="68.21" fill="#77cb3a"/><rect x="1152.42" y="2144.24" width="65.83" height="68.21" fill="#4323b1"/><rect x="1217.75" y="2144.24" width="65.83" height="68.21" fill="#57cd49"/><rect x="1283.08" y="2144.24" width="65.83" height="68.21" fill="#d5c100"/>
<rect x="303.2" y="2211.95" width="65.83" height="68.21" fill="#2fcd55"/><rect x="368.52" y="2211.95" width="131.15" height="68.21" fill="#19ce58"/><rect x="499.18" y="2211.95" width="65.83" height="68.21" fill="#00ce60"/><rect x="564.5" y="2211.95" width="65.83" height="68.21" fill="#fae900"/><rect x="629.83" y="2211.95" width="65.83" height="68.21" fill="#00ce60"/><rect x="695.15" y="2211.95" width="131.15" height="68.21" fill="#00ce5e"/><rect x="825.8" y="2211.95" width="65.83" height="68.21" fill="#f9fb00"/><rect x="891.12" y="2211.95" width="65.83" height="68.21" fill="#4dcd4d"/><rect x="956.45" y="2211.95" width="65.83" height="68.21" fill="#47cd4f"/><rect x="1021.78" y="2211.95" width="65.83" height="68.21" fill="#3bcd52"/><rect x="1087.1" y="2211.95" width="65.83" height="68.21" fill="#9dc822"/><rect x="1152.42" y="2211.95" width="65.83" height="68.21" fill="#462bc7"/><rect x="1217.75" y="2211.95" width="65.83" height="68.21" fill="#88ca30"/><rect x="1283.08" y="2211.95" width="65.83" height="68.21" fill="#f0bd00"/>
<rect x="303.2" y="2279.66" width="65.83" height="68.21" fill="#2fcd55"/><rect x="368.52" y="2279.66" width="131.15" height="68.21" fill="#19ce58"/><rect x="499.18" y="2279.66" width="131.15" height="68.21" fill="#00ce60"/><rect x="629.83" y="2279.66" width="65.83" height="68.21" fill="#fae900"/><rect x="695.15" y="2279.66" width="65.83" height="68.21" fill="#00ce60"/><rect x="760.48" y="2279.66" width="65.83" height="68.21" fill="#00ce5e"/><rect x="825.8" y="2279.66" width="65.83" height="68.21" fill="#4dcd4d"/><rect x="891.12" y="2279.66" width="65.83" height="68.21" fill="#f9fb00"/><rect x="956.45" y="2279.66" width="65.83" height="68.21" fill="#4dcd4d"/><rect x="1021.78" y="2279.66" width="65.83" height="68.21" fill="#41cd50"/><rect x="1087.1" y="2279.66" width="65.83" height="68.21" fill="#9dc822"/><rect x="1152.42" y="2279.66" width="65.83" height="68.21" fill="#462bc7"/><rect x="1217.75" y="2279.66" width="65.83" height="68.21" fill="#88ca30"/><rect x="1283.08" y="2279.66" width="65.83" height="68.21" fill="#f0bd00"/>
<rect x="303.2" y="2347.36" width="65.83" height="68.21" fill="#2fcd55"/><rect x="368.52" y="2347.36" width="65.83" height="68.21" fill="#26ce56"/><rect x="433.85" y="2347.36" width="65.83" height="68.21" fill="#19ce58"/><rect x="499.18" y="2347.36" width="65.83" height="68.21" fill="#00ce60"/><rect x="564.5" y="2347.36" width="131.15" height="68.21" fill="#00ce5e"/><rect x="695.15" y="2347.36" width="65.83" height="68.21" fill="#fae900"/><rect x="760.48" y="2347.36" width="65.83" height="68.21" fill="#00ce60"/><rect x="825.8" y="2347.36" width="65.83" height="68.21" fill="#47cd4f"/><rect x="891.12" y="2347.36" width="65.83" height="68.21" fill="#4dcd4d"/><rect x="956.45" y="2347.36" width="65.83" height="68.21" fill="#f9fb00"/><rect x="1021.78" y="2347.36" width="65.83" height="68.21" fill="#4dcd4d"/><rect x="1087.1" y="2347.36" width="65.83" height="68.21" fill="#9dc822"/><rect x="1152.42" y="2347.36" width="65.83" height="68.21" fill="#462bc7"/><rect x="1217.75" y="2347.36" width="65.83" height="68.21" fill="#88ca30"/><rect x="1283.08" y="2347.36" width="65.83" height="68.21" fill="#eebd00"/>
<rect x="303.2" y="2415.07" width="65.83" height="68.21" fill="#2fcd55"/><rect x="368.52" y="2415.07" width="131.15" height="68.21" fill="#19ce58"/><rect x="499.18" y="2415.07" width="65.83" height="68.21" fill="#00ce60"/><rect x="564.5" y="2415.07" width="196.48" height="68.21" fill="#00ce5e"/><rect x="760.48" y="2415.07" width="65.83" height="68.21" fill="#fae900"/><rect x="825.8" y="2415.07" width="65.83" height="68.21" fill="#3bcd52"/><rect x="891.12" y="2415.07" width="65.83" height="68.21" fill="#41cd50"/><rect x="956.45" y="2415.07" width="65.83" height="68.21" fill="#4dcd4d"/><rect x="1021.78" y="2415.07" width="65.83" height="68.21" fill="#f9fb00"/><rect x="1087.1" y="2415.07" width="65.83" height="68.21" fill="#97c926"/><rect x="1152.42" y="2415.07" width="65.83" height="68.21" fill="#462bc7"/><rect x="1217.75" y="2415.07" width="65.83" height="68.21" fill="#88ca30"/><rect x="1283.08" y="2415.07" width="65.83" height="68.21" fill="#e8be00"/>
<rect x="303.2" y="2482.77" width="196.48" height="68.21" fill="#9dc822"/><rect x="499.18" y="2482.77" width="65.83" height="68.21" fill="#97c926"/><rect x="564.5" y="2482.77" width="261.8" height="68.21" fill="#77cb3a"/><rect x="825.8" y="2482.77" width="196.48" height="68.21" fill="#9dc822"/><rect x="1021.78" y="2482.77" width="65.83" height="68.21" fill="#97c926"/><rect x="1087.1" y="2482.77" width="65.83" height="68.21" fill="#f9fb00"/><rect x="1152.42" y="2482.77" width="65.83" height="68.21" fill="#4053fa"/><rect x="1217.75" y="2482.77" width="65.83" height="68.21" fill="#ccc300"/><rect x="1283.08" y="2482.77" width="65.83" height="68.21" fill="#ffbc2a"/>
<rect x="303.2" y="2550.48" width="261.8" height="68.21" fill="#4628c0"/><rect x="564.5" y="2550.48" width="261.8" height="68.21" fill="#4323b1"/><rect x="825.8" y="2550.48" width="261.8" height="68.21" fill="#462bc7"/><rect x="1087.1" y="2550.48" width="65.83" height="68.21" fill="#4053fa"/><rect x="1152.42" y="2550.48" width="65.83" height="68.21" fill="#f9fb00"/><rect x="1217.75" y="2550.48" width="65.83" height="68.21" fill="#4645ef"/><rect x="1283.08" y="2550.48" width="65.83" height="68.21" fill="#0083fe"/>
<rect x="303.2" y="2618.19" width="196.48" height="68.21" fill="#88ca30"/><rect x="499.18" y="2618.19" width="65.83" height="68.21" fill="#7bcb38"/><rect x="564.5" y="2618.19" width="261.8" height="68.21" fill="#57cd49"/><rect x="825.8" y="2618.19" width="261.8" height="68.21" fill="#88ca30"/><rect x="1087.1" y="2618.19" width="65.83" height="68.21" fill="#ccc300"/><rect x="1152.42" y="2618.19" width="65.83" height="68.21" fill="#4645ef"/><rect x="1217.75" y="2618.19" width="65.83" height="68.21" fill="#f9fb00"/><rect x="1283.08" y="2618.19" width="65.83" height="68.21" fill="#ffbc2a"/>
<rect x="303.2" y="2685.89" width="65.83" height="68.21" fill="#f0bd00"/><rect x="368.52" y="2685.89" width="65.83" height="68.21" fill="#ecbe00"/><rect x="433.85" y="2685.89" width="65.83" height="68.21" fill="#e8be00"/><rect x="499.18" y="2685.89" width="65.83" height="68.21" fill="#e5bf00"/><rect x="564.5" y="2685.89" width="261.8" height="68.21" fill="#d5c100"/><rect x="825.8" y="2685.89" width="131.15" height="68.21" fill="#f0bd00"/><rect x="956.45" y="2685.89" width="65.83" height="68.21" fill="#eebd00"/><rect x="1021.78" y="2685.89" width="65.83" height="68.21" fill="#e8be00"/><rect x="1087.1" y="2685.89" width="65.83" height="68.21" fill="#ffbc2a"/><rect x="1152.42" y="2685.89" width="65.83" height="68.21" fill="#0083fe"/><rect x="1217.75" y="2685.89" width="65.83" height="68.21" fill="#ffbc2a"/><rect x="1283.08" y="2685.89" width="65.83" height="68.21" fill="#f9fb00"/>
</g>
<g fill="none" stroke="#000">
<path d="M368.52 1670.3V2753.6M303.2 1738.01H1348.4M433.85 1670.3V2753.6M303.2 1805.71H1348.4M499.18 1670.3V2753.6M303.2 1873.42H1348.4M564.5 1670.3V2753.6M303.2 1941.12H1348.4M629.83 1670.3V2753.6M303.2 2008.83H1348.4M695.15 1670.3V2753.6M303.2 2076.54H1348.4M760.48 1670.3V2753.6M303.2 2144.24H1348.4M825.8 1670.3V2753.6M303.2 2211.95H1348.4M891.12 1670.3V2753.6M303.2 2279.66H1348.4M956.45 1670.3V2753.6M303.2 2347.36H1348.4M1021.78 1670.3V2753.6M303.2 2415.07H1348.4M1087.1 1670.3V2753.6M303.2 2482.77H1348.4M1152.42 1670.3V2753.6M303.2 2550.48H1348.4M1217.75 1670.3V2753.6M303.2 2618.19H1348.4M1283.08 1670.3V2753.6M303.2 2685.89H1348.4" stroke-opacity="0.28" stroke-width="3.2"/>
<path d="M368.52 1670.3V2753.6M303.2 1738.01H1348.4M433.85 1670.3V2753.6M303.2 1805.71H1348.4M499.18 1670.3V2753.6M303.2 1873.42H1348.4M564.5 1670.3V2753.6M303.2 1941.12H1348.4M629.83 1670.3V2753.6M303.2 2008.83H1348.4M695.15 1670.3V2753.6M303.2 2076.54H1348.4M760.48 1670.3V2753.6M303.2 2144.24H1348.4M825.8 1670.3V2753.6M303.2 2211.95H1348.4M891.12 1670.3V2753.6M303.2 2279.66H1348.4M956.45 1670.3V2753.6M303.2 2347.36H1348.4M1021.78 1670.3V2753.6M303.2 2415.07H1348.4M1087.1 1670.3V2753.6M303.2 2482.77H1348.4M1152.42 1670.3V2753.6M303.2 2550.48H1348.4M1217.75 1670.3V2753.6M303.2 2618.19H1348.4M1283.08 1670.3V2753.6M303.2 2685.89H1348.4" stroke-opacity="0.55" stroke-width="1.5"/>
<path d="M303.2 1670.3H1348.4V2753.6H303.2Z" stroke-opacity="0.25" stroke-width="3"/>
<path d="M303.2 1670.3H1348.4V2753.6H303.2Z" stroke-opacity="0.6" stroke-width="1.6"/>
</g>
<rect x="1396.2" y="1670.3" width="94.5" height="1087.7" fill="url(#cb)" stroke="#222" stroke-width="2.2" stroke-linejoin="round"/>
<text transform="translate(1510.5 1688.1) scale(1.01 1.03)" font-size="53">1</text>
<path d="M1479.7 1815.8H1490.7" stroke="#222" stroke-width="1.7"/><text transform="translate(1510.5 1834) scale(1.01 1.03)" font-size="53">0.9</text>
<path d="M1479.7 1961.7H1490.7" stroke="#222" stroke-width="1.7"/><text transform="translate(1510.5 1979.9) scale(1.01 1.03)" font-size="53">0.8</text>
<path d="M1479.7 2107.6H1490.7" stroke="#222" stroke-width="1.7"/><text transform="translate(1510.5 2125.8) scale(1.01 1.03)" font-size="53">0.7</text>
<path d="M1479.7 2253.5H1490.7" stroke="#222" stroke-width="1.7"/><text transform="translate(1510.5 2271.7) scale(1.01 1.03)" font-size="53">0.6</text>
<path d="M1479.7 2399.4H1490.7" stroke="#222" stroke-width="1.7"/><text transform="translate(1510.5 2417.6) scale(1.01 1.03)" font-size="53">0.5</text>
<path d="M1479.7 2545.3H1490.7" stroke="#222" stroke-width="1.7"/><text transform="translate(1510.5 2563.5) scale(1.01 1.03)" font-size="53">0.4</text>
<path d="M1479.7 2691.2H1490.7" stroke="#222" stroke-width="1.7"/><text transform="translate(1510.5 2709.4) scale(1.01 1.03)" font-size="53">0.3</text>
<text transform="translate(276.5 1726.05) scale(1.03 1.08)" font-size="57" text-anchor="end">WS10</text>
<text transform="translate(276.5 1793.76) scale(1.03 1.08)" font-size="57" text-anchor="end">WS30</text>
<text transform="translate(276.5 1861.47) scale(1.03 1.08)" font-size="57" text-anchor="end">WS50</text>
<text transform="translate(276.5 1929.17) scale(1.03 1.08)" font-size="57" text-anchor="end">WS70</text>
<text transform="translate(276.5 1996.88) scale(1.03 1.08)" font-size="57" text-anchor="end">WDsin10</text>
<text transform="translate(276.5 2064.58) scale(1.03 1.08)" font-size="57" text-anchor="end">WDsin30</text>
<text transform="translate(276.5 2132.29) scale(1.03 1.08)" font-size="57" text-anchor="end">WDsin50</text>
<text transform="translate(276.5 2200) scale(1.03 1.08)" font-size="57" text-anchor="end">WDsin70</text>
<text transform="translate(276.5 2267.7) scale(1.03 1.08)" font-size="57" text-anchor="end">WDcos10</text>
<text transform="translate(276.5 2335.41) scale(1.03 1.08)" font-size="57" text-anchor="end">WDcos30</text>
<text transform="translate(276.5 2403.12) scale(1.03 1.08)" font-size="57" text-anchor="end">WDcos50</text>
<text transform="translate(276.5 2470.82) scale(1.03 1.08)" font-size="57" text-anchor="end">WDcos70</text>
<text transform="translate(276.5 2538.53) scale(1.03 1.08)" font-size="57" text-anchor="end">T</text>
<text transform="translate(276.5 2606.23) scale(1.03 1.08)" font-size="57" text-anchor="end">P</text>
<text transform="translate(276.5 2673.94) scale(1.03 1.08)" font-size="57" text-anchor="end">H</text>
<text transform="translate(276.5 2741.65) scale(1.03 1.08)" font-size="57" text-anchor="end">WP</text>
<text transform="translate(355.36 2779) scale(1.02 1.025) rotate(-90)" font-size="57" text-anchor="end">WS10</text>
<text transform="translate(420.69 2779) scale(1.02 1.025) rotate(-90)" font-size="57" text-anchor="end">WS30</text>
<text transform="translate(486.01 2779) scale(1.02 1.025) rotate(-90)" font-size="57" text-anchor="end">WS50</text>
<text transform="translate(551.34 2779) scale(1.02 1.025) rotate(-90)" font-size="57" text-anchor="end">WS70</text>
<text transform="translate(616.66 2779) scale(1.02 1.025) rotate(-90)" font-size="57" text-anchor="end">WDsin10</text>
<text transform="translate(681.99 2779) scale(1.02 1.025) rotate(-90)" font-size="57" text-anchor="end">WDsin30</text>
<text transform="translate(747.31 2779) scale(1.02 1.025) rotate(-90)" font-size="57" text-anchor="end">WDsin50</text>
<text transform="translate(812.64 2779) scale(1.02 1.025) rotate(-90)" font-size="57" text-anchor="end">WDsin70</text>
<text transform="translate(877.96 2779) scale(1.02 1.025) rotate(-90)" font-size="57" text-anchor="end">WDcos10</text>
<text transform="translate(943.29 2779) scale(1.02 1.025) rotate(-90)" font-size="57" text-anchor="end">WDcos30</text>
<text transform="translate(1008.61 2779) scale(1.02 1.025) rotate(-90)" font-size="57" text-anchor="end">WDcos50</text>
<text transform="translate(1073.94 2779) scale(1.02 1.025) rotate(-90)" font-size="57" text-anchor="end">WDcos70</text>
<text transform="translate(1139.26 2779) scale(1.02 1.025) rotate(-90)" font-size="57" text-anchor="end">T</text>
<text transform="translate(1204.59 2779) scale(1.02 1.025) rotate(-90)" font-size="57" text-anchor="end">P</text>
<text transform="translate(1269.91 2779) scale(1.02 1.025) rotate(-90)" font-size="57" text-anchor="end">H</text>
<text transform="translate(1335.24 2779) scale(1.02 1.025) rotate(-90)" font-size="57" text-anchor="end">WP</text>
</g>
<g id="plot3">
<g shape-rendering="crispEdges">
<rect x="279.2" y="3168.4" width="65.21" height="67.72" fill="#f9fb00"/><rect x="343.91" y="3168.4" width="65.21" height="67.72" fill="#f9ec00"/><rect x="408.62" y="3168.4" width="65.21" height="67.72" fill="#ffd900"/><rect x="473.34" y="3168.4" width="65.21" height="67.72" fill="#ffbb22"/><rect x="538.05" y="3168.4" width="259.35" height="67.72" fill="#375dff"/><rect x="796.9" y="3168.4" width="259.35" height="67.72" fill="#3b5afd"/><rect x="1055.75" y="3168.4" width="65.21" height="67.72" fill="#00c79f"/><rect x="1120.46" y="3168.4" width="65.21" height="67.72" fill="#2c65ff"/><rect x="1185.17" y="3168.4" width="65.21" height="67.72" fill="#00ce5e"/><rect x="1249.89" y="3168.4" width="65.21" height="67.72" fill="#8bca2e"/>
<rect x="279.2" y="3235.62" width="65.21" height="67.72" fill="#f9ec00"/><rect x="343.91" y="3235.62" width="65.21" height="67.72" fill="#f9fb00"/><rect x="408.62" y="3235.62" width="65.21" height="67.72" fill="#ffd700"/><rect x="473.34" y="3235.62" width="65.21" height="67.72" fill="#ffbb1d"/><rect x="538.05" y="3235.62" width="259.35" height="67.72" fill="#375dff"/><rect x="796.9" y="3235.62" width="259.35" height="67.72" fill="#3b5afd"/><rect x="1055.75" y="3235.62" width="65.21" height="67.72" fill="#00c79f"/><rect x="1120.46" y="3235.62" width="65.21" height="67.72" fill="#2867ff"/><rect x="1185.17" y="3235.62" width="65.21" height="67.72" fill="#00ce5e"/><rect x="1249.89" y="3235.62" width="65.21" height="67.72" fill="#9dc822"/>
<rect x="279.2" y="3302.84" width="65.21" height="67.72" fill="#ffd900"/><rect x="343.91" y="3302.84" width="65.21" height="67.72" fill="#ffd700"/><rect x="408.62" y="3302.84" width="65.21" height="67.72" fill="#f9fb00"/><rect x="473.34" y="3302.84" width="65.21" height="67.72" fill="#ffc51e"/><rect x="538.05" y="3302.84" width="259.35" height="67.72" fill="#375dff"/><rect x="796.9" y="3302.84" width="259.35" height="67.72" fill="#3b5afd"/><rect x="1055.75" y="3302.84" width="65.21" height="67.72" fill="#00c5a7"/><rect x="1120.46" y="3302.84" width="65.21" height="67.72" fill="#3261ff"/><rect x="1185.17" y="3302.84" width="65.21" height="67.72" fill="#00ce60"/><rect x="1249.89" y="3302.84" width="65.21" height="67.72" fill="#b9c506"/>
<rect x="279.2" y="3370.06" width="65.21" height="67.72" fill="#ffbb22"/><rect x="343.91" y="3370.06" width="65.21" height="67.72" fill="#ffbb1d"/><rect x="408.62" y="3370.06" width="65.21" height="67.72" fill="#ffc51e"/><rect x="473.34" y="3370.06" width="65.21" height="67.72" fill="#f9fb00"/><rect x="538.05" y="3370.06" width="259.35" height="67.72" fill="#375dff"/><rect x="796.9" y="3370.06" width="259.35" height="67.72" fill="#3b5afd"/><rect x="1055.75" y="3370.06" width="65.21" height="67.72" fill="#00b9cc"/><rect x="1120.46" y="3370.06" width="65.21" height="67.72" fill="#4645ef"/><rect x="1185.17" y="3370.06" width="65.21" height="67.72" fill="#00cd79"/><rect x="1249.89" y="3370.06" width="65.21" height="67.72" fill="#b5c60b"/>
<rect x="279.2" y="3437.28" width="259.35" height="67.72" fill="#375dff"/><rect x="538.05" y="3437.28" width="65.21" height="67.72" fill="#f9fb00"/><rect x="602.76" y="3437.28" width="65.21" height="67.72" fill="#4150f8"/><rect x="667.47" y="3437.28" width="129.92" height="67.72" fill="#4645ef"/><rect x="796.9" y="3437.28" width="65.21" height="67.72" fill="#4321ad"/><rect x="861.61" y="3437.28" width="65.21" height="67.72" fill="#2867ff"/><rect x="926.32" y="3437.28" width="65.21" height="67.72" fill="#434df5"/><rect x="991.04" y="3437.28" width="65.21" height="67.72" fill="#4549f3"/><rect x="1055.75" y="3437.28" width="65.21" height="67.72" fill="#4150f8"/><rect x="1120.46" y="3437.28" width="65.21" height="67.72" fill="#4741ec"/><rect x="1185.17" y="3437.28" width="65.21" height="67.72" fill="#3b5afd"/><rect x="1249.89" y="3437.28" width="65.21" height="67.72" fill="#3f54fa"/>
<rect x="279.2" y="3504.49" width="259.35" height="67.72" fill="#375dff"/><rect x="538.05" y="3504.49" width="65.21" height="67.72" fill="#4150f8"/><rect x="602.76" y="3504.49" width="65.21" height="67.72" fill="#f9fb00"/><rect x="667.47" y="3504.49" width="65.21" height="67.72" fill="#3f54fa"/><rect x="732.19" y="3504.49" width="65.21" height="67.72" fill="#4645ef"/><rect x="796.9" y="3504.49" width="65.21" height="67.72" fill="#4834db"/><rect x="861.61" y="3504.49" width="65.21" height="67.72" fill="#4321ad"/><rect x="926.32" y="3504.49" width="65.21" height="67.72" fill="#3261ff"/><rect x="991.04" y="3504.49" width="65.21" height="67.72" fill="#434df5"/><rect x="1055.75" y="3504.49" width="65.21" height="67.72" fill="#3f54fa"/><rect x="1120.46" y="3504.49" width="65.21" height="67.72" fill="#483fea"/><rect x="1185.17" y="3504.49" width="129.92" height="67.72" fill="#375dff"/>
<rect x="279.2" y="3571.71" width="259.35" height="67.72" fill="#375dff"/><rect x="538.05" y="3571.71" width="65.21" height="67.72" fill="#4645ef"/><rect x="602.76" y="3571.71" width="65.21" height="67.72" fill="#3f54fa"/><rect x="667.47" y="3571.71" width="65.21" height="67.72" fill="#f9fb00"/><rect x="732.19" y="3571.71" width="65.21" height="67.72" fill="#3261ff"/><rect x="796.9" y="3571.71" width="65.21" height="67.72" fill="#4647f1"/><rect x="861.61" y="3571.71" width="65.21" height="67.72" fill="#4834db"/><rect x="926.32" y="3571.71" width="65.21" height="67.72" fill="#4321ad"/><rect x="991.04" y="3571.71" width="65.21" height="67.72" fill="#3261ff"/><rect x="1055.75" y="3571.71" width="65.21" height="67.72" fill="#3c58fc"/><rect x="1120.46" y="3571.71" width="65.21" height="67.72" fill="#483fea"/><rect x="1185.17" y="3571.71" width="129.92" height="67.72" fill="#375dff"/>
<rect x="279.2" y="3638.93" width="259.35" height="67.72" fill="#375dff"/><rect x="538.05" y="3638.93" width="129.92" height="67.72" fill="#4645ef"/><rect x="667.47" y="3638.93" width="65.21" height="67.72" fill="#3261ff"/><rect x="732.19" y="3638.93" width="65.21" height="67.72" fill="#f9fb00"/><rect x="796.9" y="3638.93" width="65.21" height="67.72" fill="#444bf4"/><rect x="861.61" y="3638.93" width="65.21" height="67.72" fill="#4741ec"/><rect x="926.32" y="3638.93" width="65.21" height="67.72" fill="#4834db"/><rect x="991.04" y="3638.93" width="65.21" height="67.72" fill="#4321ad"/><rect x="1055.75" y="3638.93" width="65.21" height="67.72" fill="#3e56fb"/><rect x="1120.46" y="3638.93" width="65.21" height="67.72" fill="#483fea"/><rect x="1185.17" y="3638.93" width="129.92" height="67.72" fill="#375dff"/>
<rect x="279.2" y="3706.15" width="259.35" height="67.72" fill="#3b5afd"/><rect x="538.05" y="3706.15" width="65.21" height="67.72" fill="#4321ad"/><rect x="602.76" y="3706.15" width="65.21" height="67.72" fill="#4834db"/><rect x="667.47" y="3706.15" width="65.21" height="67.72" fill="#4647f1"/><rect x="732.19" y="3706.15" width="65.21" height="67.72" fill="#444bf4"/><rect x="796.9" y="3706.15" width="65.21" height="67.72" fill="#f9fb00"/><rect x="861.61" y="3706.15" width="65.21" height="67.72" fill="#434df5"/><rect x="926.32" y="3706.15" width="65.21" height="67.72" fill="#4741ec"/><rect x="991.04" y="3706.15" width="65.21" height="67.72" fill="#4647f1"/><rect x="1055.75" y="3706.15" width="65.21" height="67.72" fill="#3f54fa"/><rect x="1120.46" y="3706.15" width="65.21" height="67.72" fill="#483fea"/><rect x="1185.17" y="3706.15" width="129.92" height="67.72" fill="#3b5afd"/>
<rect x="279.2" y="3773.37" width="259.35" height="67.72" fill="#3b5afd"/><rect x="538.05" y="3773.37" width="65.21" height="67.72" fill="#2867ff"/><rect x="602.76" y="3773.37" width="65.21" height="67.72" fill="#4321ad"/><rect x="667.47" y="3773.37" width="65.21" height="67.72" fill="#4834db"/><rect x="732.19" y="3773.37" width="65.21" height="67.72" fill="#4741ec"/><rect x="796.9" y="3773.37" width="65.21" height="67.72" fill="#434df5"/><rect x="861.61" y="3773.37" width="65.21" height="67.72" fill="#f9fb00"/><rect x="926.32" y="3773.37" width="65.21" height="67.72" fill="#3f54fa"/><rect x="991.04" y="3773.37" width="65.21" height="67.72" fill="#4645ef"/><rect x="1055.75" y="3773.37" width="65.21" height="67.72" fill="#3f54fa"/><rect x="1120.46" y="3773.37" width="65.21" height="67.72" fill="#483fea"/><rect x="1185.17" y="3773.37" width="129.92" height="67.72" fill="#3b5afd"/>
<rect x="279.2" y="3840.59" width="259.35" height="67.72" fill="#3b5afd"/><rect x="538.05" y="3840.59" width="65.21" height="67.72" fill="#434df5"/><rect x="602.76" y="3840.59" width="65.21" height="67.72" fill="#3261ff"/><rect x="667.47" y="3840.59" width="65.21" height="67.72" fill="#4321ad"/><rect x="732.19" y="3840.59" width="65.21" height="67.72" fill="#4834db"/><rect x="796.9" y="3840.59" width="65.21" height="67.72" fill="#4741ec"/><rect x="861.61" y="3840.59" width="65.21" height="67.72" fill="#3f54fa"/><rect x="926.32" y="3840.59" width="65.21" height="67.72" fill="#f9fb00"/><rect x="991.04" y="3840.59" width="65.21" height="67.72" fill="#3261ff"/><rect x="1055.75" y="3840.59" width="65.21" height="67.72" fill="#3f54fa"/><rect x="1120.46" y="3840.59" width="65.21" height="67.72" fill="#483fea"/><rect x="1185.17" y="3840.59" width="129.92" height="67.72" fill="#3b5afd"/>
<rect x="279.2" y="3907.81" width="259.35" height="67.72" fill="#3b5afd"/><rect x="538.05" y="3907.81" width="65.21" height="67.72" fill="#4549f3"/><rect x="602.76" y="3907.81" width="65.21" height="67.72" fill="#434df5"/><rect x="667.47" y="3907.81" width="65.21" height="67.72" fill="#3261ff"/><rect x="732.19" y="3907.81" width="65.21" height="67.72" fill="#4321ad"/><rect x="796.9" y="3907.81" width="65.21" height="67.72" fill="#4647f1"/><rect x="861.61" y="3907.81" width="65.21" height="67.72" fill="#4645ef"/><rect x="926.32" y="3907.81" width="65.21" height="67.72" fill="#3261ff"/><rect x="991.04" y="3907.81" width="65.21" height="67.72" fill="#f9fb00"/><rect x="1055.75" y="3907.81" width="65.21" height="67.72" fill="#3f54fa"/><rect x="1120.46" y="3907.81" width="65.21" height="67.72" fill="#483fea"/><rect x="1185.17" y="3907.81" width="129.92" height="67.72" fill="#3b5afd"/>
<rect x="279.2" y="3975.02" width="129.92" height="67.72" fill="#00c79f"/><rect x="408.62" y="3975.02" width="65.21" height="67.72" fill="#00c5a7"/><rect x="473.34" y="3975.02" width="65.21" height="67.72" fill="#00b9cc"/><rect x="538.05" y="3975.02" width="65.21" height="67.72" fill="#4150f8"/><rect x="602.76" y="3975.02" width="65.21" height="67.72" fill="#3f54fa"/><rect x="667.47" y="3975.02" width="65.21" height="67.72" fill="#3c58fc"/><rect x="732.19" y="3975.02" width="65.21" height="67.72" fill="#3e56fb"/><rect x="796.9" y="3975.02" width="259.35" height="67.72" fill="#3f54fa"/><rect x="1055.75" y="3975.02" width="65.21" height="67.72" fill="#f9fb00"/><rect x="1120.46" y="3975.02" width="65.21" height="67.72" fill="#00b1db"/><rect x="1185.17" y="3975.02" width="65.21" height="67.72" fill="#00b3d8"/><rect x="1249.89" y="3975.02" width="65.21" height="67.72" fill="#00c0b8"/>
<rect x="279.2" y="4042.24" width="65.21" height="67.72" fill="#2c65ff"/><rect x="343.91" y="4042.24" width="65.21" height="67.72" fill="#2867ff"/><rect x="408.62" y="4042.24" width="65.21" height="67.72" fill="#3261ff"/><rect x="473.34" y="4042.24" width="65.21" height="67.72" fill="#4645ef"/><rect x="538.05" y="4042.24" width="65.21" height="67.72" fill="#4741ec"/><rect x="602.76" y="4042.24" width="453.49" height="67.72" fill="#483fea"/><rect x="1055.75" y="4042.24" width="65.21" height="67.72" fill="#00b1db"/><rect x="1120.46" y="4042.24" width="65.21" height="67.72" fill="#f9fb00"/><rect x="1185.17" y="4042.24" width="65.21" height="67.72" fill="#434df5"/><rect x="1249.89" y="4042.24" width="65.21" height="67.72" fill="#007fff"/>
<rect x="279.2" y="4109.46" width="129.92" height="67.72" fill="#00ce5e"/><rect x="408.62" y="4109.46" width="65.21" height="67.72" fill="#00ce60"/><rect x="473.34" y="4109.46" width="65.21" height="67.72" fill="#00cd79"/><rect x="538.05" y="4109.46" width="65.21" height="67.72" fill="#3b5afd"/><rect x="602.76" y="4109.46" width="194.64" height="67.72" fill="#375dff"/><rect x="796.9" y="4109.46" width="259.35" height="67.72" fill="#3b5afd"/><rect x="1055.75" y="4109.46" width="65.21" height="67.72" fill="#00b3d8"/><rect x="1120.46" y="4109.46" width="65.21" height="67.72" fill="#434df5"/><rect x="1185.17" y="4109.46" width="65.21" height="67.72" fill="#f9fb00"/><rect x="1249.89" y="4109.46" width="65.21" height="67.72" fill="#00c1b6"/>
<rect x="279.2" y="4176.68" width="65.21" height="67.72" fill="#8bca2e"/><rect x="343.91" y="4176.68" width="65.21" height="67.72" fill="#9dc822"/><rect x="408.62" y="4176.68" width="65.21" height="67.72" fill="#b9c506"/><rect x="473.34" y="4176.68" width="65.21" height="67.72" fill="#b5c60b"/><rect x="538.05" y="4176.68" width="65.21" height="67.72" fill="#3f54fa"/><rect x="602.76" y="4176.68" width="194.64" height="67.72" fill="#375dff"/><rect x="796.9" y="4176.68" width="259.35" height="67.72" fill="#3b5afd"/><rect x="1055.75" y="4176.68" width="65.21" height="67.72" fill="#00c0b8"/><rect x="1120.46" y="4176.68" width="65.21" height="67.72" fill="#007fff"/><rect x="1185.17" y="4176.68" width="65.21" height="67.72" fill="#00c1b6"/><rect x="1249.89" y="4176.68" width="65.21" height="67.72" fill="#f9fb00"/>
</g>
<g fill="none" stroke="#000">
<path d="M343.91 3168.4V4243.9M279.2 3235.62H1314.6M408.62 3168.4V4243.9M279.2 3302.84H1314.6M473.34 3168.4V4243.9M279.2 3370.06H1314.6M538.05 3168.4V4243.9M279.2 3437.28H1314.6M602.76 3168.4V4243.9M279.2 3504.49H1314.6M667.47 3168.4V4243.9M279.2 3571.71H1314.6M732.19 3168.4V4243.9M279.2 3638.93H1314.6M796.9 3168.4V4243.9M279.2 3706.15H1314.6M861.61 3168.4V4243.9M279.2 3773.37H1314.6M926.32 3168.4V4243.9M279.2 3840.59H1314.6M991.04 3168.4V4243.9M279.2 3907.81H1314.6M1055.75 3168.4V4243.9M279.2 3975.02H1314.6M1120.46 3168.4V4243.9M279.2 4042.24H1314.6M1185.17 3168.4V4243.9M279.2 4109.46H1314.6M1249.89 3168.4V4243.9M279.2 4176.68H1314.6" stroke-opacity="0.28" stroke-width="3.2"/>
<path d="M343.91 3168.4V4243.9M279.2 3235.62H1314.6M408.62 3168.4V4243.9M279.2 3302.84H1314.6M473.34 3168.4V4243.9M279.2 3370.06H1314.6M538.05 3168.4V4243.9M279.2 3437.28H1314.6M602.76 3168.4V4243.9M279.2 3504.49H1314.6M667.47 3168.4V4243.9M279.2 3571.71H1314.6M732.19 3168.4V4243.9M279.2 3638.93H1314.6M796.9 3168.4V4243.9M279.2 3706.15H1314.6M861.61 3168.4V4243.9M279.2 3773.37H1314.6M926.32 3168.4V4243.9M279.2 3840.59H1314.6M991.04 3168.4V4243.9M279.2 3907.81H1314.6M1055.75 3168.4V4243.9M279.2 3975.02H1314.6M1120.46 3168.4V4243.9M279.2 4042.24H1314.6M1185.17 3168.4V4243.9M279.2 4109.46H1314.6M1249.89 3168.4V4243.9M279.2 4176.68H1314.6" stroke-opacity="0.55" stroke-width="1.5"/>
<path d="M279.2 3168.4H1314.6V4243.9H279.2Z" stroke-opacity="0.25" stroke-width="3"/>
<path d="M279.2 3168.4H1314.6V4243.9H279.2Z" stroke-opacity="0.6" stroke-width="1.6"/>
</g>
<rect x="1362.5" y="3168.4" width="93.7" height="1075.6" fill="url(#cb)" stroke="#222" stroke-width="2.4" stroke-linejoin="round"/>
<text transform="translate(1478 3185.5) scale(1 1.04)" font-size="52">1</text>
<path d="M1445.2 3291.12H1456.2" stroke="#222" stroke-width="2"/><text transform="translate(1478 3307.72) scale(1 1.04)" font-size="52">0.95</text>
<path d="M1445.2 3413.35H1456.2" stroke="#222" stroke-width="2"/><text transform="translate(1478 3429.95) scale(1 1.04)" font-size="52">0.9</text>
<path d="M1445.2 3535.58H1456.2" stroke="#222" stroke-width="2"/><text transform="translate(1478 3552.18) scale(1 1.04)" font-size="52">0.85</text>
<path d="M1445.2 3657.8H1456.2" stroke="#222" stroke-width="2"/><text transform="translate(1478 3674.4) scale(1 1.04)" font-size="52">0.8</text>
<path d="M1445.2 3780.03H1456.2" stroke="#222" stroke-width="2"/><text transform="translate(1478 3796.62) scale(1 1.04)" font-size="52">0.75</text>
<path d="M1445.2 3902.25H1456.2" stroke="#222" stroke-width="2"/><text transform="translate(1478 3918.85) scale(1 1.04)" font-size="52">0.7</text>
<path d="M1445.2 4024.47H1456.2" stroke="#222" stroke-width="2"/><text transform="translate(1478 4041.07) scale(1 1.04)" font-size="52">0.65</text>
<path d="M1445.2 4146.7H1456.2" stroke="#222" stroke-width="2"/><text transform="translate(1478 4163.3) scale(1 1.04)" font-size="52">0.6</text>
<text transform="translate(250.6 3222.21) scale(1.01 1.02)" font-size="57" text-anchor="end">WS10</text>
<text transform="translate(250.6 3289.43) scale(1.01 1.02)" font-size="57" text-anchor="end">WS30</text>
<text transform="translate(250.6 3356.65) scale(1.01 1.02)" font-size="57" text-anchor="end">WS50</text>
<text transform="translate(250.6 3423.87) scale(1.01 1.02)" font-size="57" text-anchor="end">WS70</text>
<text transform="translate(250.6 3491.08) scale(1.01 1.02)" font-size="57" text-anchor="end">WDsin10</text>
<text transform="translate(250.6 3558.3) scale(1.01 1.02)" font-size="57" text-anchor="end">WDsin30</text>
<text transform="translate(250.6 3625.52) scale(1.01 1.02)" font-size="57" text-anchor="end">WDsin50</text>
<text transform="translate(250.6 3692.74) scale(1.01 1.02)" font-size="57" text-anchor="end">WDsin70</text>
<text transform="translate(250.6 3759.96) scale(1.01 1.02)" font-size="57" text-anchor="end">WDcos10</text>
<text transform="translate(250.6 3827.18) scale(1.01 1.02)" font-size="57" text-anchor="end">WDcos30</text>
<text transform="translate(250.6 3894.4) scale(1.01 1.02)" font-size="57" text-anchor="end">WDcos50</text>
<text transform="translate(250.6 3961.62) scale(1.01 1.02)" font-size="57" text-anchor="end">WDcos70</text>
<text transform="translate(250.6 4028.83) scale(1.01 1.02)" font-size="57" text-anchor="end">T</text>
<text transform="translate(250.6 4096.05) scale(1.01 1.02)" font-size="57" text-anchor="end">P</text>
<text transform="translate(250.6 4163.27) scale(1.01 1.02)" font-size="57" text-anchor="end">H</text>
<text transform="translate(250.6 4230.49) scale(1.01 1.02)" font-size="57" text-anchor="end">WP</text>
<text transform="translate(331.06 4270) scale(0.98 1.04) rotate(-90)" font-size="57" text-anchor="end">WS10</text>
<text transform="translate(395.77 4270) scale(0.98 1.04) rotate(-90)" font-size="57" text-anchor="end">WS30</text>
<text transform="translate(460.48 4270) scale(0.98 1.04) rotate(-90)" font-size="57" text-anchor="end">WS50</text>
<text transform="translate(525.19 4270) scale(0.98 1.04) rotate(-90)" font-size="57" text-anchor="end">WS70</text>
<text transform="translate(589.91 4270) scale(0.98 1.04) rotate(-90)" font-size="57" text-anchor="end">WDsin10</text>
<text transform="translate(654.62 4270) scale(0.98 1.04) rotate(-90)" font-size="57" text-anchor="end">WDsin30</text>
<text transform="translate(719.33 4270) scale(0.98 1.04) rotate(-90)" font-size="57" text-anchor="end">WDsin50</text>
<text transform="translate(784.04 4270) scale(0.98 1.04) rotate(-90)" font-size="57" text-anchor="end">WDsin70</text>
<text transform="translate(848.76 4270) scale(0.98 1.04) rotate(-90)" font-size="57" text-anchor="end">WDcos10</text>
<text transform="translate(913.47 4270) scale(0.98 1.04) rotate(-90)" font-size="57" text-anchor="end">WDcos30</text>
<text transform="translate(978.18 4270) scale(0.98 1.04) rotate(-90)" font-size="57" text-anchor="end">WDcos50</text>
<text transform="translate(1042.89 4270) scale(0.98 1.04) rotate(-90)" font-size="57" text-anchor="end">WDcos70</text>
<text transform="translate(1107.61 4270) scale(0.98 1.04) rotate(-90)" font-size="57" text-anchor="end">T</text>
<text transform="translate(1172.32 4270) scale(0.98 1.04) rotate(-90)" font-size="57" text-anchor="end">P</text>
<text transform="translate(1237.03 4270) scale(0.98 1.04) rotate(-90)" font-size="57" text-anchor="end">H</text>
<text transform="translate(1301.74 4270) scale(0.98 1.04) rotate(-90)" font-size="57" text-anchor="end">WP</text>
</g>
<text class="cap" y="1604.6" font-size="88" xml:space="preserve"><tspan x="81.45" textLength="21.98" lengthAdjust="spacingAndGlyphs">(</tspan><tspan x="108.31" textLength="39.39" lengthAdjust="spacingAndGlyphs" font-weight="bold">a</tspan><tspan x="150.37" textLength="23.93" lengthAdjust="spacingAndGlyphs">)</tspan> <tspan x="197.69" textLength="277.77" lengthAdjust="spacingAndGlyphs">Feature</tspan> <tspan x="497.16" textLength="399.39" lengthAdjust="spacingAndGlyphs">correlation</tspan> <tspan x="918.1" textLength="155.68" lengthAdjust="spacingAndGlyphs">heat</tspan> <tspan x="1095.9" textLength="166.5" lengthAdjust="spacingAndGlyphs">map</tspan> <tspan x="1281.6" textLength="73.3" lengthAdjust="spacingAndGlyphs">of</tspan> <tspan x="1376.04" textLength="171.61" lengthAdjust="spacingAndGlyphs">PCC</tspan></text>
<text class="cap" y="3105.2" font-size="88" xml:space="preserve"><tspan x="82.69" textLength="20.64" lengthAdjust="spacingAndGlyphs">(</tspan><tspan x="108.19" textLength="49.49" lengthAdjust="spacingAndGlyphs" font-weight="bold">b</tspan><tspan x="161" textLength="23.44" lengthAdjust="spacingAndGlyphs">)</tspan> <tspan x="207.8" textLength="277.67" lengthAdjust="spacingAndGlyphs">Feature</tspan> <tspan x="505.64" textLength="400.91" lengthAdjust="spacingAndGlyphs">correlation</tspan> <tspan x="927.4" textLength="155.68" lengthAdjust="spacingAndGlyphs">heat</tspan> <tspan x="1105.2" textLength="166.39" lengthAdjust="spacingAndGlyphs">map</tspan> <tspan x="1290.92" textLength="72.89" lengthAdjust="spacingAndGlyphs">of</tspan> <tspan x="1385.01" textLength="160.42" lengthAdjust="spacingAndGlyphs">MIE</tspan></text>
<text class="cap" y="4592.6" font-size="88" xml:space="preserve"><tspan x="76.95" textLength="21.98" lengthAdjust="spacingAndGlyphs">(</tspan><tspan x="103.31" textLength="37.57" lengthAdjust="spacingAndGlyphs" font-weight="bold">c</tspan><tspan x="140.61" textLength="24.79" lengthAdjust="spacingAndGlyphs">)</tspan> <tspan x="187.59" textLength="277.87" lengthAdjust="spacingAndGlyphs">Feature</tspan> <tspan x="487.26" textLength="399.39" lengthAdjust="spacingAndGlyphs">correlation</tspan> <tspan x="908.2" textLength="155.68" lengthAdjust="spacingAndGlyphs">heat</tspan> <tspan x="1086" textLength="166.91" lengthAdjust="spacingAndGlyphs">map</tspan> <tspan x="1271.6" textLength="73.3" lengthAdjust="spacingAndGlyphs">of</tspan> <tspan x="1365.54" textLength="183.51" lengthAdjust="spacingAndGlyphs">GRA</tspan></text>
</svg>
</body>
</html>
